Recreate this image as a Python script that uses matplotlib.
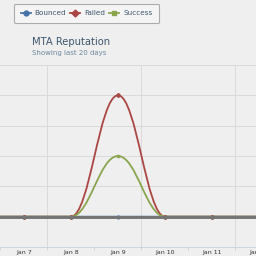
import numpy as np
import matplotlib
matplotlib.use("Agg")
import matplotlib.pyplot as plt
from matplotlib.path import Path
from matplotlib.patches import PathPatch
from matplotlib.lines import Line2D

categories = ['Jan 5', 'Jan 6', 'Jan 7', 'Jan 8', 'Jan 9', 'Jan 10', 'Jan 11', 'Jan 12', 'Jan 13']
bounced = [0, 0, 0, 0, 0, 0, 0, 0, 0]
failed = [0, 0, 0, 0, 4, 0, 0, 0, 0]
success = [0, 0, 0, 0, 2, 0, 0, 0, 0]
series_names = ['Bounced', 'Failed', 'Success']
series_colors = ['#4572A7', '#AA4643', '#89A54E']
series_markers = ['o', 'D', 's']


def spline_path(xs, ys, smoothing=1.5):
    n = len(xs)
    lc = [None] * n
    rc = [None] * n
    for i in range(n):
        x, y = xs[i], ys[i]
        if 0 < i < n - 1:
            lx, ly = xs[i - 1], ys[i - 1]
            nx, ny = xs[i + 1], ys[i + 1]
            d = smoothing + 1
            lcx = (smoothing * x + lx) / d
            lcy = (smoothing * y + ly) / d
            rcx = (smoothing * x + nx) / d
            rcy = (smoothing * y + ny) / d
            if rcx != lcx:
                corr = ((rcy - lcy) * (rcx - x)) / (rcx - lcx) + y - rcy
                lcy += corr
                rcy += corr
            if lcy > ly and lcy > y:
                lcy = max(ly, y); rcy = 2 * y - lcy
            elif lcy < ly and lcy < y:
                lcy = min(ly, y); rcy = 2 * y - lcy
            if rcy > ny and rcy > y:
                rcy = max(ny, y); lcy = 2 * y - rcy
            elif rcy < ny and rcy < y:
                rcy = min(ny, y); lcy = 2 * y - rcy
            lc[i] = (lcx, lcy)
            rc[i] = (rcx, rcy)
        else:
            lc[i] = (x, y)
            rc[i] = (x, y)
    verts = [(xs[0], ys[0])]
    codes = [Path.MOVETO]
    for i in range(1, n):
        verts += [rc[i - 1], lc[i], (xs[i], ys[i])]
        codes += [Path.CURVE4] * 3
    return Path(verts, codes)


bg = '#efefef'
fig = plt.figure(figsize=(2.56, 2.56), dpi=100, facecolor=bg)
ax = fig.add_axes([-0.2, 9 / 256, 1.4, 182 / 256])
ax.set_facecolor(bg)
x = np.arange(len(categories))

# grid
ax.set_yticks(range(0, 6))
ax.yaxis.grid(True, color='#dadada', lw=0.7)
ax.tick_params(axis='y', left=False, labelleft=False)
for gx in np.arange(0.5, len(categories), 2):
    ax.axvline(gx, color='#dadada', lw=0.7, zorder=0.5)
ax.set_axisbelow(True)

for s in ['top', 'right', 'left']:
    ax.spines[s].set_visible(False)
ax.spines['bottom'].set_color('#c8d2dc')
ax.spines['bottom'].set_linewidth(0.6)

ax.set_xticks(x)
ax.set_xticklabels(categories, fontsize=4.5, color='#333333')
ax.set_xticks(np.arange(0.5, len(categories), 1), minor=True)
ax.tick_params(axis='x', which='major', length=0, pad=2.5)
ax.tick_params(axis='x', which='minor', length=2, color='#c8d2dc', width=0.6)

handles = []
for vals, name, col, mk in zip([bounced, failed, success], series_names, series_colors, series_markers):
    p = spline_path(list(x), vals)
    ax.add_patch(PathPatch(p, facecolor='none', edgecolor=col, lw=1.3, clip_on=False, zorder=3))
    ax.plot(x, vals, ls='none', marker=mk, ms=2.0, color=col, clip_on=False, zorder=3.2)
    handles.append(Line2D([0], [0], color=col, lw=1.3, marker=mk, ms=3.5))

ax.axhline(0, color='#747474', lw=2.1, zorder=3.5, clip_on=False)

ax.set_xlim(0.4, 8.026)
ax.set_ylim(-1, 5)

fig.text(32 / 256, 1 - 45 / 256, 'MTA Reputation', fontsize=7.2, color='#3E576F', va='baseline')
fig.text(32 / 256, 1 - 55.5 / 256, 'Showing last 20 days', fontsize=5, color='#6D869F', va='baseline')

leg = fig.legend(handles, series_names, loc='upper left', bbox_to_anchor=(14 / 256, 1 - 3.5 / 256),
                 ncol=3, frameon=True, fancybox=True, fontsize=5.2, handlelength=1.4,
                 handletextpad=0.55, columnspacing=0.55, borderpad=0.9, borderaxespad=0,
                 labelcolor='#3E576F')
leg.get_frame().set_edgecolor('#9a9a9a')
leg.get_frame().set_facecolor('#f6f6f6')
leg.get_frame().set_linewidth(0.8)

fig.savefig('out.png', dpi=100, facecolor=bg)
